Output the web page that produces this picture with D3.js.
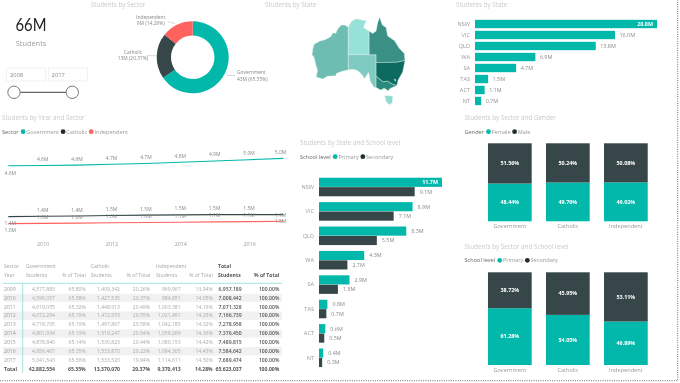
<!DOCTYPE html>
<html>
<head>
<meta charset="utf-8">
<script src="https://d3js.org/d3.v7.min.js"></script>
<style>
  html, body { margin: 0; padding: 0; background: #fff; }
  svg { display: block; font-family: "Open Sans", sans-serif; filter: blur(0.3px); }
  .domain { display: none; }
</style>
</head>
<body>
<svg id="chart" width="680" height="383"></svg>
<script>
// Values
const sectors = ["Government", "Catholic", "Independent"];
const sectorStudents = [42882554, 13370070, 9370413];
const sectorLabels = ["43M (65.35%)", "13M (20.37%)", "9M (14.28%)"];

const states = ["NSW", "VIC", "QLD", "WA", "SA", "TAS", "ACT", "NT"];
const stateTotals = [20.8, 16.0, 13.8, 6.9, 4.7, 1.5, 1.1, 0.7];
const statePrimary = [11.7, 8.9, 8.3, 4.3, 2.9, 0.8, 0.6, 0.4];
const stateSecondary = [9.1, 7.1, 5.5, 2.7, 1.8, 0.7, 0.5, 0.3];

const years = [2009, 2010, 2011, 2012, 2013, 2014, 2015, 2016, 2017];
const yearTicks = [2010, 2012, 2014, 2016];
const govStudents = [4577883, 4596057, 4619055, 4672294, 4718705, 4801934, 4878840, 4956467, 5041543];
const cathStudents = [1409342, 1427535, 1448913, 1472953, 1497867, 1519247, 1530823, 1533870, 1533520];
const indStudents = [969967, 984851, 1003381, 1021491, 1042185, 1059269, 1080153, 1094305, 1114611];
const totalStudents = [6957189, 7008442, 7071328, 7166739, 7278958, 7376450, 7489815, 7584642, 7689474];
const govPct = [65.80, 65.58, 65.32, 65.19, 65.10, 65.10, 65.14, 65.35, 65.56];
const cathPct = [20.26, 20.37, 20.49, 20.55, 20.58, 20.54, 20.44, 20.22, 19.94];
const indPct = [13.94, 14.05, 14.19, 14.25, 14.32, 14.36, 14.42, 14.43, 14.50];
const tableTotals = ["Total", "42,882,554", "65.35%", "13,370,070", "20.37%", "9,370,413", "14.28%", "65,623,037", "100.00%"];

const genderFemale = [48.44, 49.76, 49.92];
const genderMale = [51.56, 50.24, 50.08];
const levelPrimary = [61.28, 54.05, 46.89];
const levelSecondary = [38.72, 45.95, 53.11];

// rough state outlines, lon/lat
const stateShapes = [
  { name: "WA", students: 6.9, ring: [[129,-14.9],[129,-31.7],[126,-32.3],[124,-33],[123.5,-33.9],[120,-34],[118,-35],[115.1,-34.3],[115.7,-32],[115,-30],[114.2,-27],[113.3,-26],[113.7,-23.5],[114.2,-21.9],[116.7,-20.6],[119,-20],[121.5,-18.7],[122.3,-17.2],[123.6,-17.4],[124.5,-15.5],[126,-14],[127.5,-14],[129,-14.9]] },
  { name: "NT", students: 0.7, ring: [[129,-14.9],[130.3,-12.4],[132.5,-11.3],[135.5,-12],[136.8,-12.2],[135.5,-15],[138,-16.5],[138,-26],[129,-26],[129,-14.9]] },
  { name: "SA", students: 4.7, ring: [[129,-26],[141,-26],[141,-38],[140,-37.8],[138.4,-35.6],[138,-33.5],[137.7,-32.7],[136,-34.9],[135,-33.5],[133,-32],[131,-31.5],[129,-31.7],[129,-26]] },
  { name: "QLD", students: 13.8, ring: [[138,-16.5],[139.5,-17.5],[141,-16.5],[141.7,-13],[142.5,-10.7],[143.7,-14],[145.3,-15],[146,-18.5],[149,-20.5],[151,-23.5],[153.2,-25.5],[153.5,-28.2],[150,-28.9],[141,-29],[141,-26],[138,-26],[138,-16.5]] },
  { name: "NSW", students: 20.8, ring: [[141,-29],[150,-28.9],[153.5,-28.2],[152.5,-32.5],[150.5,-35.5],[150,-37.3],[148,-36.8],[146,-35.8],[144,-36],[141,-34],[141,-29]] },
  { name: "VIC", students: 16.0, ring: [[141,-34],[144,-36],[146,-35.8],[148,-36.8],[150,-37.3],[147,-38.3],[146.3,-39.1],[144.5,-38.2],[143,-38.8],[141,-38],[141,-34]] },
  { name: "TAS", students: 1.5, ring: [[144.7,-40.7],[148.2,-40.8],[148,-43],[146.8,-43.6],[145.5,-42.8],[144.7,-40.7]] },
  { name: "ACT", students: 1.1, ring: [[148.8,-35.1],[149.5,-35.2],[149.3,-35.9],[148.8,-35.1]] }
];

const teal = "#01b8aa", dark = "#374649", red = "#fd625e";
const titleGrey = "#c9c9c9", textGrey = "#999";
const svg = d3.select("#chart");
const fmt = d3.format(",");
const fmtPct = d => d.toFixed(2) + "%";

function title(x, y, txt) {
  svg.append("text").attr("x", x).attr("y", y).attr("dy", "0.35em")
    .attr("font-size", 6.3).attr("fill", titleGrey).text(txt);
}

// legend items are laid out one after the other using the measured text width
function legend(x, y, name, items) {
  const g = svg.append("g").attr("font-size", 5.6);
  const head = g.append("text").attr("x", x).attr("y", y).attr("dy", "0.35em")
    .attr("fill", "#666").text(name);
  let cx = x + head.node().getComputedTextLength() + 4.5;
  items.forEach(it => {
    g.append("circle").attr("cx", cx).attr("cy", y).attr("r", 2.4).attr("fill", it.color);
    const t = g.append("text").attr("x", cx + 3.2).attr("y", y).attr("dy", "0.35em")
      .attr("fill", textGrey).text(it.label);
    cx += 3.2 + t.node().getComputedTextLength() + 4;
  });
}

// dotted frame of the report page
svg.append("path").attr("d", d3.line()([[0, 380.7], [677.7, 380.7], [677.7, 0]]))
  .attr("fill", "none").attr("stroke", "#333").attr("stroke-width", 0.8).attr("stroke-dasharray", "0.9 1.4");

// ---- KPI and slicer
svg.append("text").attr("x", 31).attr("y", 31).attr("text-anchor", "middle")
  .attr("font-size", 18).attr("font-family", "Lato").attr("fill", "#222")
  .attr("textLength", 31).attr("lengthAdjust", "spacingAndGlyphs").text("66M");
svg.append("text").attr("x", 31).attr("y", 43).attr("dy", "0.35em").attr("text-anchor", "middle")
  .attr("font-size", 7.4).attr("fill", "#a0a0a0").text("Students");

[[6.7, 2008], [48.3, 2017]].forEach(d => {
  svg.append("rect").attr("x", d[0]).attr("y", 68).attr("width", 39).attr("height", 13)
    .attr("fill", "#fff").attr("stroke", "#ececec").attr("stroke-width", 0.7);
  svg.append("text").attr("x", d[0] + 3.3).attr("y", 75).attr("dy", "0.35em")
    .attr("font-size", 5.8).attr("fill", "#888").text(d[1]);
});
const sliderX = d3.scaleLinear().domain([2008, 2017]).range([14, 72.3]);
svg.append("line").attr("x1", sliderX(2008)).attr("x2", sliderX(2017)).attr("y1", 92.3).attr("y2", 92.3)
  .attr("stroke", "#666").attr("stroke-width", 1.2);
[2008, 2017].forEach(y => {
  svg.append("circle").attr("cx", sliderX(y)).attr("cy", 92.3).attr("r", 6.2)
    .attr("fill", "#fff").attr("stroke", "#777").attr("stroke-width", 1);
});

// ---- Donut
title(90.7, 5, "Students by Sector");
const pie = d3.pie().sort(null)(sectorStudents);
const arc = d3.arc().innerRadius(21.7).outerRadius(36);
const donut = svg.append("g").attr("transform", "translate(192.7,57.3)");
const sectorColor = d3.scaleOrdinal().domain(sectors).range([teal, dark, red]);
donut.selectAll("path").data(pie).enter().append("path")
  .attr("d", arc).attr("fill", (d, i) => sectorColor(sectors[i]));

const donutNotes = [
  { x: 237, y: 72.5, anchor: "start", line: [[227, 75.5], [235, 75.5]] },
  { x: 133, y: 52, anchor: "middle", line: [[146.5, 55.7], [156, 55.7]] },
  { x: 150.7, y: 17, anchor: "middle", line: [[168, 21.7], [175, 23.5]] }
];
donutNotes.forEach((n, i) => {
  const g = svg.append("g").attr("font-size", 4.9).attr("fill", "#888").attr("text-anchor", n.anchor);
  g.append("text").attr("x", n.x).attr("y", n.y).attr("dy", "0.35em").text(sectors[i]);
  g.append("text").attr("x", n.x).attr("y", n.y + 6.6).attr("dy", "0.35em").text(sectorLabels[i]);
  svg.append("path").attr("d", d3.line()(n.line)).attr("fill", "none").attr("stroke", "#bbb").attr("stroke-width", 0.6);
});

// ---- Map
title(265, 5, "Students by State");
const features = stateShapes.map(s => ({
  type: "Feature", properties: s,
  geometry: { type: "Polygon", coordinates: [s.ring] }
}));
const mapColors = { WA: "#6dbdb2", NT: "#97e2d8", SA: "#7fcac1", QLD: "#3a9084", NSW: "#0c6a5f", VIC: "#2a8a7d", TAS: "#8edbd0", ACT: "#a8e6de" };
const projection = d3.geoMercator().fitExtent([[312, 17], [405, 105]], { type: "FeatureCollection", features });
svg.append("g").selectAll("path").data(features).enter().append("path")
  .attr("d", d3.geoPath(projection))
  .attr("fill", d => mapColors[d.properties.name])
  .attr("stroke", "#e4f2f0").attr("stroke-width", 0.4);

// ---- Bars by state
title(456, 5, "Students by State");
const barX = d3.scaleLinear().domain([0, 20.8]).range([475, 657]);
const barY = d3.scaleBand().domain(states).range([18.5, 106.5]).paddingInner(0.24).paddingOuter(0.12);
svg.append("g").selectAll("rect").data(stateTotals).enter().append("rect")
  .attr("x", barX(0)).attr("y", (d, i) => barY(states[i]))
  .attr("width", d => barX(d) - barX(0)).attr("height", barY.bandwidth()).attr("fill", teal);
svg.append("g").attr("transform", `translate(${barX(0)},0)`)
  .call(d3.axisLeft(barY).tickSize(0).tickPadding(5))
  .call(g => g.selectAll("text").attr("font-size", 5.6).attr("fill", textGrey).attr("font-family", "Open Sans"));
svg.append("g").selectAll("text").data(stateTotals).enter().append("text")
  .attr("x", (d, i) => i === 0 ? barX(d) - 4 : barX(d) + 4.5)
  .attr("y", (d, i) => barY(states[i]) + barY.bandwidth() / 2).attr("dy", "0.35em")
  .attr("text-anchor", (d, i) => i === 0 ? "end" : "start")
  .attr("font-size", 5.4).attr("font-weight", (d, i) => i === 0 ? 700 : 400)
  .attr("fill", (d, i) => i === 0 ? "#fff" : "#888").text(d => d.toFixed(1) + "M");

// ---- Lines by year
title(2, 117.5, "Students by Year and Sector");
legend(2, 131.7, "Sector", [
  { label: "Government", color: teal }, { label: "Catholic", color: "#1f2d30" }, { label: "Independent", color: red }
]);
const lineX = d3.scaleLinear().domain([2009, 2017]).range([8.3, 283.5]);
const lineY = d3.scaleLinear().domain([0, 5000000]).range([239.2, 159]);
const line = d3.line().x((d, i) => lineX(years[i])).y(d => lineY(d));
const seriesList = [
  { values: govStudents, color: teal, labels: ["4.6M","4.6M","4.6M","4.7M","4.7M","4.8M","4.9M","5.0M","5.0M"], below: [0] },
  { values: cathStudents, color: dark, labels: ["1.4M","1.4M","1.4M","1.5M","1.5M","1.5M","1.5M","1.5M","1.5M"], below: [0, 8] },
  { values: indStudents, color: red, labels: ["1.0M","1.0M","1.0M","1.0M","1.0M","1.1M","1.1M","1.1M","1.1M"], below: [0] }
];
seriesList.forEach(s => {
  svg.append("path").attr("d", line(s.values)).attr("fill", "none").attr("stroke", s.color).attr("stroke-width", 1.1);
});
seriesList.forEach(s => {
  svg.append("g").selectAll("text").data(s.values).enter().append("text")
    .attr("x", (d, i) => i === 0 ? lineX(years[i]) + 2 : i === 8 ? lineX(years[i]) - 3 : lineX(years[i]))
    .attr("y", (d, i) => lineY(d) + (s.below.includes(i) ? 7 : -6.2)).attr("dy", "0.35em")
    .attr("text-anchor", "middle").attr("font-size", 5).attr("fill", "#888")
    .text((d, i) => s.labels[i]);
});
svg.append("g").attr("transform", "translate(0,240)")
  .call(d3.axisBottom(lineX).tickValues(yearTicks).tickFormat(d3.format("d")).tickSize(0).tickPadding(2))
  .call(g => g.selectAll("text").attr("font-size", 5.4).attr("fill", textGrey).attr("font-family", "Open Sans"));

// ---- Table
const tableFont = 5.1;
const colRight = [55, 85.7, 120, 150, 180.7, 212.7, 241.7, 279.3];
const rowY = d3.scaleBand().domain(years.concat("Total")).range([284.5, 373.5]);
const table = svg.append("g").attr("font-size", tableFont);
years.forEach((y, i) => {
  if (i % 2 === 1) table.append("rect").attr("x", 3).attr("y", rowY(y) + 0.3).attr("width", 279).attr("height", rowY.bandwidth() - 0.6).attr("fill", "#f1f1f1");
});
function headCell(x, y, txt, anchor, strong) {
  table.append("text").attr("x", x).attr("y", y).attr("dy", "0.35em").attr("text-anchor", anchor)
    .attr("fill", strong ? "#555" : "#a5a5a5").attr("font-weight", strong ? 700 : 400).text(txt);
}
headCell(4, 266.7, "Sector", "start");
headCell(4, 275.7, "Year", "start");
headCell(26, 266.7, "Government", "start");
headCell(26, 275.7, "Students", "start");
headCell(85.7, 275.7, "% of Total", "end");
headCell(90.7, 266.7, "Catholic", "start");
headCell(90.7, 275.7, "Students", "start");
headCell(150, 275.7, "% of Total", "end");
headCell(156, 266.7, "Independent", "start");
headCell(156, 275.7, "Students", "start");
headCell(212.7, 275.7, "% of Total", "end");
headCell(218, 266.7, "Total", "start", true);
headCell(218, 275.7, "Students", "start", true);
headCell(279.3, 275.7, "% of Total", "end", true);
years.forEach((y, i) => {
  const cy = rowY(y) + rowY.bandwidth() / 2;
  const cells = [fmt(govStudents[i]), fmtPct(govPct[i]), fmt(cathStudents[i]), fmtPct(cathPct[i]),
    fmt(indStudents[i]), fmtPct(indPct[i]), fmt(totalStudents[i]), "100.00%"];
  table.append("text").attr("x", 4).attr("y", cy).attr("dy", "0.35em").attr("fill", "#999").text(y);
  cells.forEach((c, j) => {
    table.append("text").attr("x", colRight[j]).attr("y", cy).attr("dy", "0.35em").attr("text-anchor", "end")
      .attr("fill", j >= 6 ? "#555" : "#aaa").attr("font-weight", j >= 6 ? 600 : 400).text(c);
  });
});
const totalY = rowY("Total") + rowY.bandwidth() / 2;
tableTotals.forEach((c, j) => {
  table.append("text").attr("x", j === 0 ? 4 : colRight[j - 1]).attr("y", totalY).attr("dy", "0.35em")
    .attr("text-anchor", j === 0 ? "start" : "end").attr("fill", "#555").attr("font-weight", 700).text(c);
});
table.append("line").attr("x1", 3).attr("x2", 282).attr("y1", 283.3).attr("y2", 283.3).attr("stroke", "#8ddcd4").attr("stroke-width", 0.8);
table.append("line").attr("x1", 22.7).attr("x2", 22.7).attr("y1", 283.3).attr("y2", 373).attr("stroke", "#8ddcd4").attr("stroke-width", 0.8);

// ---- Clustered bars, state and school level
title(300, 142.7, "Students by State and School level");
legend(300, 156.7, "School level", [{ label: "Primary", color: teal }, { label: "Secondary", color: "#1f2d30" }]);
const levelX = d3.scaleLinear().domain([0, 11.7]).range([319, 442]);
const levelY = d3.scaleBand().domain(states).range([174.8, 370]).paddingInner(0.24).paddingOuter(0.12);
const inner = d3.scaleBand().domain(["Primary", "Secondary"]).range([0, levelY.bandwidth()]).paddingInner(0.03);
[["Primary", statePrimary, teal], ["Secondary", stateSecondary, dark]].forEach(([lvl, vals, col]) => {
  const g = svg.append("g");
  g.selectAll("rect").data(vals).enter().append("rect")
    .attr("x", levelX(0)).attr("y", (d, i) => levelY(states[i]) + inner(lvl))
    .attr("width", d => levelX(d) - levelX(0)).attr("height", inner.bandwidth()).attr("fill", col);
  g.selectAll("text").data(vals).enter().append("text")
    .attr("x", (d, i) => lvl === "Primary" && i === 0 ? levelX(d) - 4 : levelX(d) + 5)
    .attr("y", (d, i) => levelY(states[i]) + inner(lvl) + inner.bandwidth() / 2).attr("dy", "0.35em")
    .attr("text-anchor", (d, i) => lvl === "Primary" && i === 0 ? "end" : "start")
    .attr("font-size", 5.4).attr("font-weight", (d, i) => lvl === "Primary" && i === 0 ? 700 : 400)
    .attr("fill", (d, i) => lvl === "Primary" && i === 0 ? "#fff" : "#888").text(d => d.toFixed(1) + "M");
});
svg.append("g").attr("transform", `translate(${levelX(0)},0)`)
  .call(d3.axisLeft(levelY).tickSize(0).tickPadding(5))
  .call(g => g.selectAll("text").attr("font-size", 5.6).attr("fill", textGrey).attr("font-family", "Open Sans"));

// ---- 100% stacked columns
function stacked(top, bottom, lower, upper) {
  const x = d3.scaleBand().domain(sectors).range([480.9, 654.8]).paddingInner(0.2466).paddingOuter(0.122);
  const y = d3.scaleLinear().domain([0, 100]).range([bottom, top]);
  const g = svg.append("g");
  sectors.forEach((s, i) => {
    g.append("rect").attr("x", x(s)).attr("y", y(lower[i])).attr("width", x.bandwidth())
      .attr("height", y(0) - y(lower[i])).attr("fill", teal);
    g.append("rect").attr("x", x(s)).attr("y", y(100)).attr("width", x.bandwidth())
      .attr("height", y(lower[i]) - y(100)).attr("fill", dark);
    g.append("text").attr("x", x(s) + x.bandwidth() / 2).attr("y", y(lower[i] / 2)).attr("dy", "0.35em")
      .attr("text-anchor", "middle").attr("font-size", 5.4).attr("font-weight", 700).attr("fill", "#fff").text(fmtPct(lower[i]));
    g.append("text").attr("x", x(s) + x.bandwidth() / 2).attr("y", y(lower[i] + upper[i] / 2)).attr("dy", "0.35em")
      .attr("text-anchor", "middle").attr("font-size", 5.4).attr("font-weight", 700).attr("fill", "#fff").text(fmtPct(upper[i]));
  });
  svg.append("g").attr("transform", `translate(0,${bottom})`)
    .call(d3.axisBottom(x).tickSize(0).tickPadding(3))
    .call(a => a.selectAll("text").attr("font-size", 5.6).attr("fill", textGrey).attr("font-family", "Open Sans"));
}
title(464.5, 118, "Students by Sector and Gender");
legend(464.5, 131.7, "Gender", [{ label: "Female", color: teal }, { label: "Male", color: "#1f2d30" }]);
stacked(143.3, 221.3, genderFemale, genderMale);

title(464.5, 246.3, "Students by Sector and School level");
legend(464.5, 260.3, "School level", [{ label: "Primary", color: teal }, { label: "Secondary", color: "#1f2d30" }]);
stacked(272.3, 365, levelPrimary, levelSecondary);
</script>
</body>
</html>
